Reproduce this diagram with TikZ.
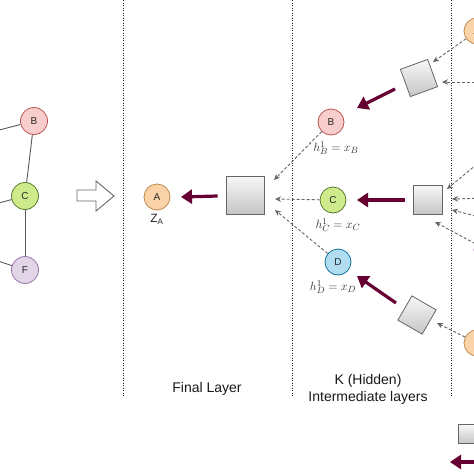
\documentclass[tikz,border=0pt]{standalone}
\usepackage{fontspec}
\setmainfont{Liberation Sans}
\usetikzlibrary{arrows.meta,calc}
\definecolor{apfill}{HTML}{FAD3A8}\definecolor{apdraw}{HTML}{C08A4A}
\definecolor{bpfill}{HTML}{F8CECC}\definecolor{bpdraw}{HTML}{B85450}
\definecolor{cpfill}{HTML}{CDEB8B}\definecolor{cpdraw}{HTML}{5A7A30}
\definecolor{dpfill}{HTML}{B1DDF0}\definecolor{dpdraw}{HTML}{10739E}
\definecolor{fpfill}{HTML}{E1D5E7}\definecolor{fpdraw}{HTML}{9673A6}
\definecolor{maroon}{HTML}{660033}
\definecolor{dgray}{HTML}{666666}
\tikzset{
  gnode/.style={circle,draw,line width=0.8pt,minimum size=27pt,inner sep=0pt,font=\fontsize{10}{11}\selectfont,text=black!85},
  aggbox/.style={draw=dgray,line width=0.8pt,top color=gray!6,bottom color=gray!45,inner sep=0pt},
  bigarrow/.style={draw=maroon,line width=3.2pt,-{Triangle[length=11pt,width=14pt]}},
  msg/.style={draw=dgray,line width=0.9pt,dash pattern=on 3pt off 2pt,-{Stealth[length=6pt,width=5.5pt]}},
  edge/.style={draw=black!65,line width=0.9pt},
  sep/.style={draw=black!85,line width=0.9pt,dash pattern=on 1pt off 1.5pt},
  mlabel/.style={font=\fontsize{13}{14}\selectfont,text=black!80,inner sep=0pt},
  caption/.style={font=\fontsize{14}{17}\selectfont,text=black!90}
}
\begin{document}
\begin{tikzpicture}[x=1pt,y=-1pt]
\useasboundingbox (0,0) rectangle (474,474);
\clip (0,0) rectangle (474,474);
\fill[white] (0,0) rectangle (474,474);

% input graph
\node[gnode,fill=bpfill,draw=bpdraw] (gB) at (34,121) {B};
\node[gnode,fill=cpfill,draw=cpdraw] (gC) at (25,196) {C};
\node[gnode,fill=fpfill,draw=fpdraw] (gF) at (25,270) {F};
\coordinate (gAl) at (-20,135);
\coordinate (gCl) at (-20,208);
\coordinate (gFl) at (-20,255);
\draw[edge] (gB) -- (gC);
\draw[edge] (gC) -- (gF);
\draw[edge] (gAl) -- (gB);
\draw[edge] (gCl) -- (gC);
\draw[edge] (gFl) -- (gF);

% hollow arrow
\draw[draw=dgray,fill=white,line width=0.9pt] (77,190) -- (96,190) -- (96,181) -- (114,196) -- (96,211) -- (96,201) -- (77,201) -- cycle;

% separators
\coordinate (s1t) at (123,0); \coordinate (s1b) at (123,397);
\coordinate (s2t) at (292,0); \coordinate (s2b) at (292,397);
\coordinate (s3t) at (451,0); \coordinate (s3b) at (451,397);
\draw[sep] (s1t) -- (s1b);
\draw[sep] (s2t) -- (s2b);
\draw[sep] (s3t) -- (s3b);

% final layer
\node[gnode,fill=apfill,draw=apdraw,minimum size=26pt] (fA) at (157,197) {A};
\node[font=\fontsize{12}{13}\selectfont,text=black!85] (zA) at (157,219) {Z\textsubscript{A}};
\node[aggbox,minimum size=38pt] (fbox) at (245,195) {};
\draw[bigarrow] (fbox.west) ++(-8,1) coordinate (fa0) -- (181,197) coordinate (fa1);

% intermediate layer
\node[gnode,fill=bpfill,draw=bpdraw,minimum size=26pt] (iB) at (331,122) {B};
\node[mlabel] (lB) at (336,148) {$h^1_B = x_B$};
\node[gnode,fill=cpfill,draw=cpdraw,minimum size=26pt] (iC) at (333,200) {C};
\node[mlabel] (lC) at (338,225) {$h^1_C = x_C$};
\node[gnode,fill=dpfill,draw=dpdraw,minimum size=26pt] (iD) at (338,262) {D};
\node[mlabel] (lD) at (333,287) {$h^1_D = x_D$};

\coordinate (tB) at (274,180);
\coordinate (tC) at (275,199);
\coordinate (tD) at (275,210);
\draw[msg] (iB) -- (tB);
\draw[msg] (iC) -- (tC);
\draw[msg] (iD) -- (tD);

\node[aggbox,minimum size=29pt,rotate=20] (ubox) at (419,78) {};
\node[aggbox,minimum size=29pt] (mbox) at (428,200) {};
\node[aggbox,minimum size=28pt,rotate=-30] (lbox) at (417,315) {};

\coordinate (ua0) at (395,89);  \coordinate (ua1) at (357,108);
\coordinate (ma0) at (405,200); \coordinate (ma1) at (357,200);
\coordinate (la0) at (396,303); \coordinate (la1) at (357,276);
\draw[bigarrow] (ua0) -- (ua1);
\draw[bigarrow] (ma0) -- (ma1);
\draw[bigarrow] (la0) -- (la1);

% right-hand (cut) layer
\node[gnode,fill=apfill,draw=apdraw,minimum size=26pt] (rA) at (477,31) {A};
\node[gnode,fill=fpfill,draw=fpdraw,minimum size=26pt] (rE) at (487,250) {};
\node[gnode,fill=apfill,draw=apdraw,minimum size=26pt] (rA2) at (477,343) {};
\coordinate (rU) at (490,82);
\coordinate (rM1) at (500,145);
\coordinate (rM2) at (490,198);
\coordinate (rM3) at (500,222);

\coordinate (uT1) at (433,62);
\coordinate (uT2) at (442,82);
\coordinate (mT1) at (447,189);
\coordinate (mT2) at (452,199);
\coordinate (mT3) at (452,210);
\coordinate (mT4) at (435,222);
\coordinate (lT1) at (437,323);
\draw[msg] (rA) -- (uT1);
\draw[msg] (rU) -- (uT2);
\draw[msg] (rM1) -- (mT1);
\draw[msg] (rM2) -- (mT2);
\draw[msg] (rM3) -- (mT3);
\draw[msg] (rE) -- (mT4);
\draw[msg] (rA2) -- (lT1);

% bottom-right legend fragments
\node[aggbox,minimum width=24pt,minimum height=19pt] (legbox) at (470,434) {};
\coordinate (lg0) at (480,462); \coordinate (lg1) at (450,462);
\draw[bigarrow] (lg0) -- (lg1);

% captions
\node[caption] (cap1) at (207,389) {Final Layer};
\node[caption,align=center] (cap2) at (368,389) {K (Hidden)\\Intermediate layers};
\end{tikzpicture}
\end{document}
